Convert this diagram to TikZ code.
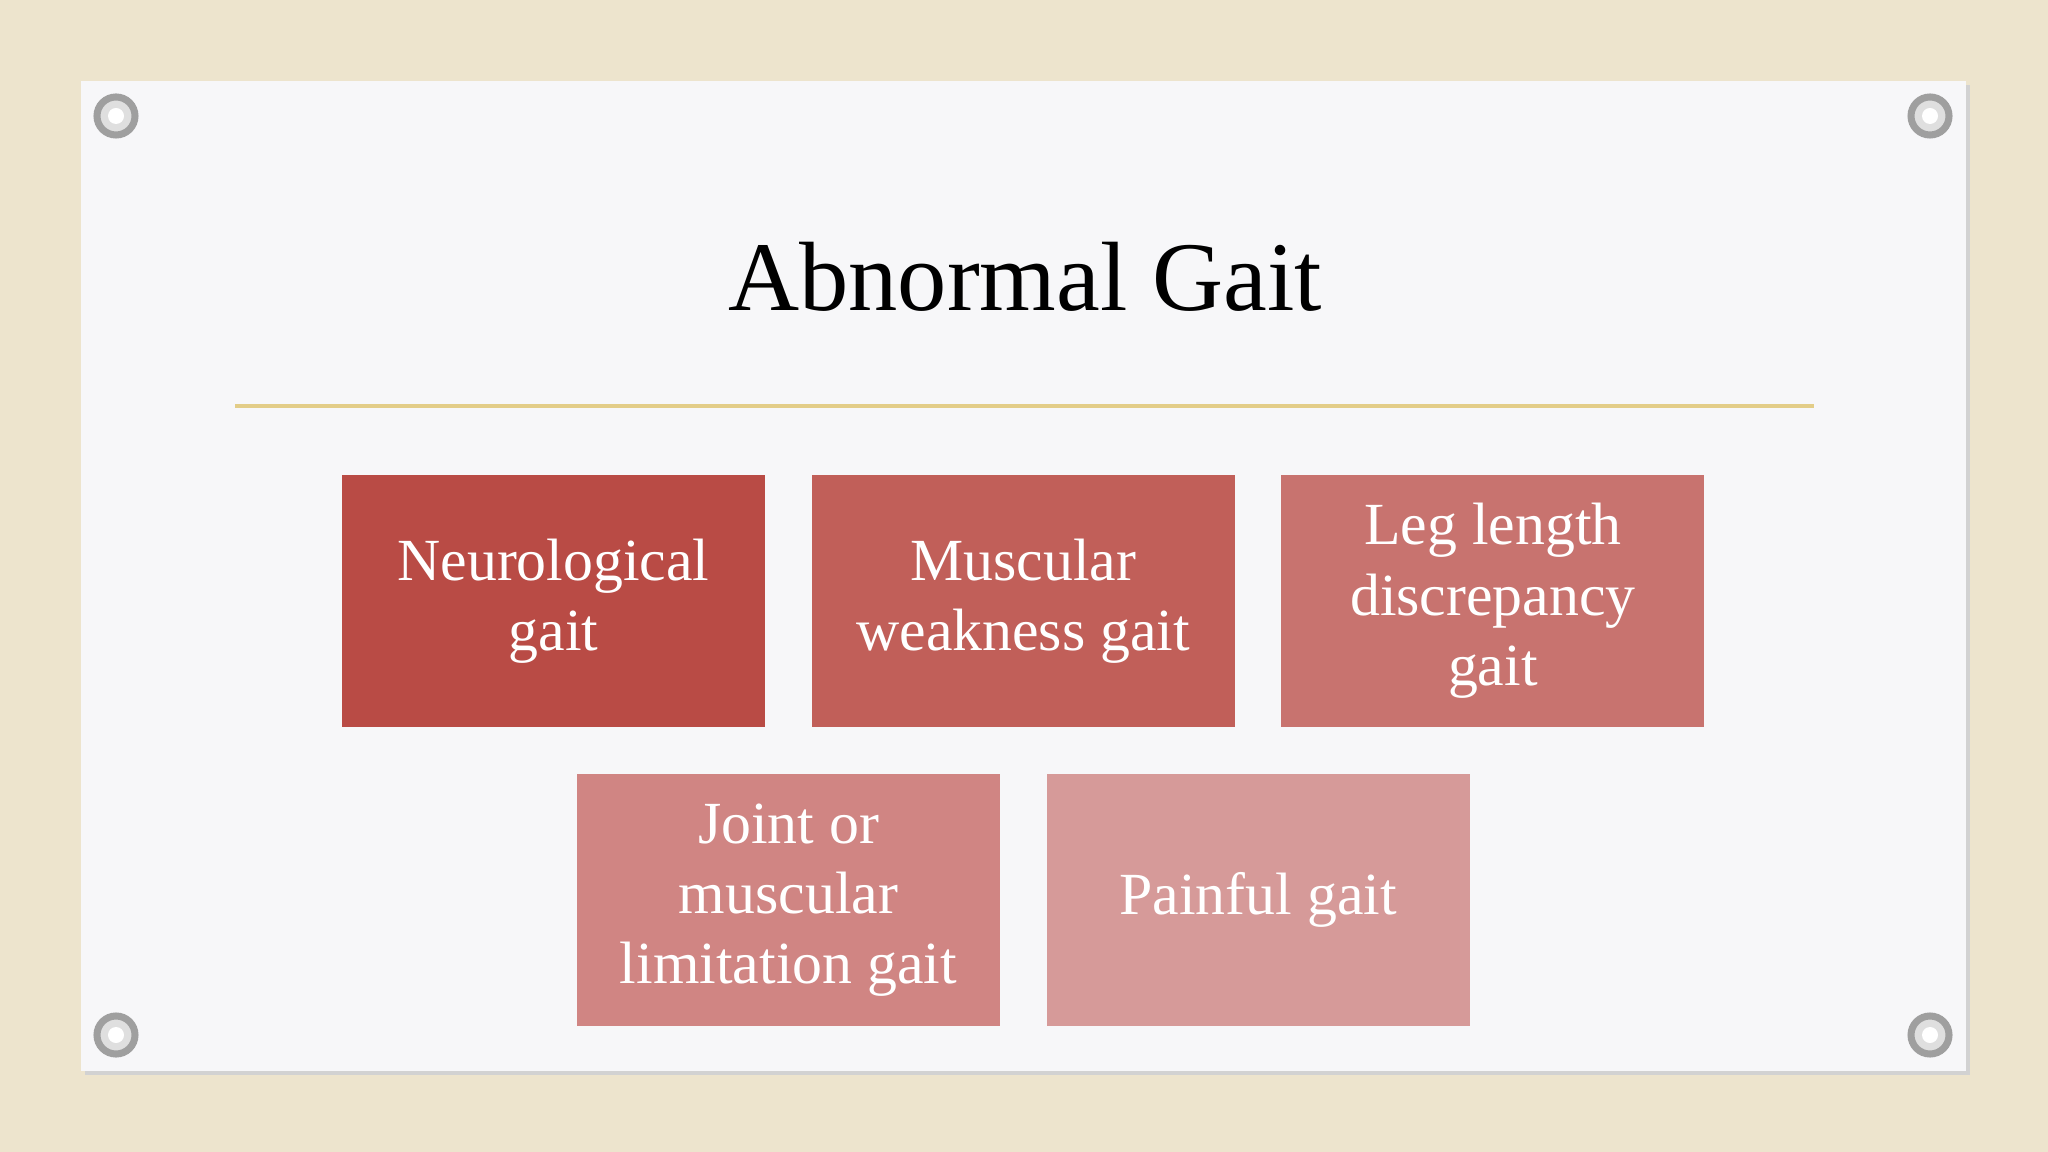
\documentclass[tikz,border=0pt]{standalone}
\usepackage{fontspec}
\setmainfont{Liberation Serif}
\usetikzlibrary{positioning}

\begin{document}
\begin{tikzpicture}[
            x=0.01cm,y=-0.01cm,
            node distance=4.5mm
        ]
            \definecolor{bgx}{HTML}{EDE4CD}
            \definecolor{cardx}{HTML}{F7F7F9}
            \definecolor{linex}{HTML}{E3CD88}
            \definecolor{gaa}{HTML}{B94B45}
            \definecolor{gab}{HTML}{C15F59}
            \definecolor{gac}{HTML}{C8736F}
            \definecolor{gad}{HTML}{D08583}
            \definecolor{gae}{HTML}{D69A99}
            \tikzset{
                gaitbox/.style={minimum width=42.3mm,minimum height=25.2mm,
                    align=center,text=white,
                    font=\fontsize{17}{20}\selectfont,inner sep=0pt},
                ring/.style={circle,draw=gray!75,line width=2pt,fill=gray!25,minimum size=3.8mm,inner sep=0pt,
                    path picture={\fill [white] (path picture bounding box.center) circle (0.8mm);}}
            }

            \fill [bgx] (0,0) rectangle (2048,1152);
            \fill [gray!35] (85,85) rectangle (1970,1075);
            \fill [cardx] (81,81) rectangle (1966,1071);

            \node (r1) [ring] at (116,116)   {};
            \node (r2) [ring] at (1930,116)  {};
            \node (r3) [ring] at (116,1035)  {};
            \node (r4) [ring] at (1930,1035) {};

            \node (title) at (1025,277) {\fontsize{28}{32}\selectfont Abnormal Gait};
            \coordinate (la) at (235,406);
            \coordinate (lb) at (1814,406);
            \draw [linex,line width=1pt] (la) -- (lb);

            \node (neuro) [gaitbox,fill=gaa] at (553.5,601) {Neurological\\gait};
            \node (musc)  [gaitbox,fill=gab,right=of neuro] {Muscular\\weakness gait};
            \node (leg)   [gaitbox,fill=gac,right=of musc]  {Leg length\\discrepancy\\gait};
            \node (joint) [gaitbox,fill=gad] at (788.5,900) {Joint or\\muscular\\limitation gait};
            \node (pain)  [gaitbox,fill=gae,right=of joint] {Painful gait};
        \end{tikzpicture}
\end{document}
